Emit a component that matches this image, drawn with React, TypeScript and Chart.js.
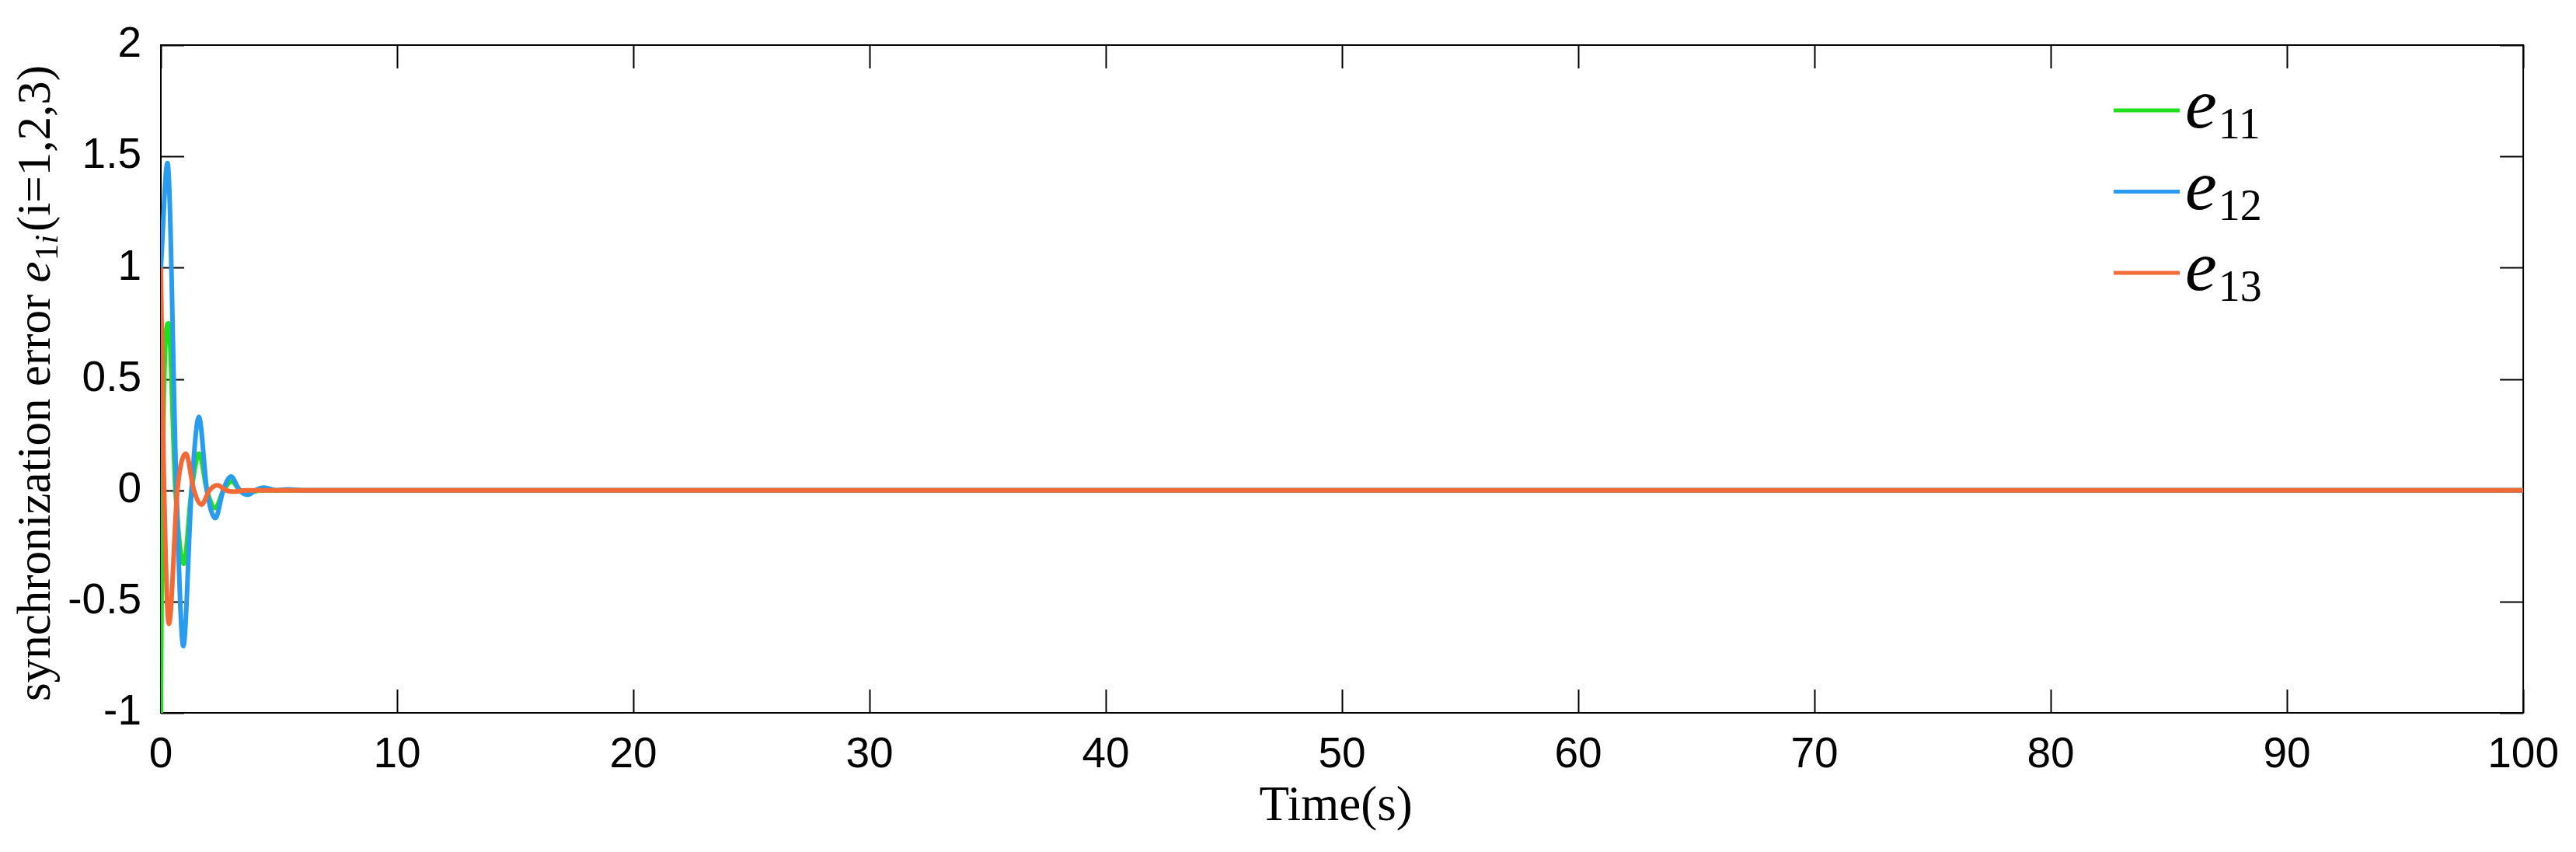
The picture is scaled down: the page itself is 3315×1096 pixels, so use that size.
import React, { useEffect, useRef } from 'react';
import { Chart, registerables } from 'chart.js';

Chart.register(...registerables);

// ---- data ----
const e11Time = [0, 0.04, 0.12, 0.32, 0.62, 0.97, 1.3, 1.62, 1.95, 2.3, 2.65, 3.0, 3.35, 3.7, 4.2, 100];
const e11Values = [-1, -0.3, 0.4, 0.75, 0, -0.33, 0, 0.165, 0, -0.08, 0, 0.04, 0, -0.012, 0, 0];

const e12Time = [0, 0.28, 0.66, 0.95, 1.3, 1.61, 1.95, 2.31, 2.64, 2.97, 3.33, 3.68, 4.0, 4.35, 4.9, 5.4, 6.0, 100];
const e12Values = [1.0, 1.47, 0, -0.7, 0, 0.33, 0, -0.125, 0, 0.062, 0, -0.02, 0, 0.012, 0, 0.004, 0, 0];

const e13Time = [0, 0.12, 0.34, 0.7, 1.06, 1.4, 1.72, 2.06, 2.4, 2.75, 3.1, 3.6, 100];
const e13Values = [1.0, 0.1, -0.6, 0, 0.165, 0, -0.064, 0, 0.022, 0, -0.006, 0, 0];

const seriesSubscripts = ['11', '12', '13'];
const seriesColors = ['#1fe01f', '#2a9cf0', '#f46a36'];

const xTickValues = [0, 10, 20, 30, 40, 50, 60, 70, 80, 90, 100];
const yTickValues = [-1, -0.5, 0, 0.5, 1, 1.5, 2];

const xTitle = 'Time(s)';
const yTitlePrefix = 'synchronization error ';
const yTitleSub1 = '1';
const yTitleSub2 = 'i';
const yTitleSuffix = '(i=1,2,3)';

const W = 3315;
const H = 1096;
const PLOT_LEFT = 207;
const PLOT_RIGHT = 3249;
const PLOT_TOP = 37;
const PLOT_BOTTOM = 917;
const TICK_LEN = 30;

const toPoints = (t: number[], v: number[]) => t.map((x, i) => ({ x, y: v[i] }));

const decorPlugin = {
  id: 'decor',
  beforeDatasetsDraw(chart: any) {
    const ctx = chart.ctx;
    const { left, right, top, bottom } = chart.chartArea;
    const xs = chart.scales.x;
    const ys = chart.scales.y;
    ctx.save();
    ctx.strokeStyle = '#000';
    ctx.lineWidth = 2;
    ctx.strokeRect(left, top, right - left, bottom - top);
    ctx.beginPath();
    xTickValues.forEach((v) => {
      const px = Math.round(xs.getPixelForValue(v)) + 0.5;
      ctx.moveTo(px, bottom);
      ctx.lineTo(px, bottom - TICK_LEN);
      ctx.moveTo(px, top);
      ctx.lineTo(px, top + TICK_LEN);
    });
    yTickValues.forEach((v) => {
      const py = Math.round(ys.getPixelForValue(v)) + 0.5;
      ctx.moveTo(left, py);
      ctx.lineTo(left + TICK_LEN, py);
      ctx.moveTo(right, py);
      ctx.lineTo(right - TICK_LEN, py);
    });
    ctx.stroke();
    ctx.restore();
  },
  afterDraw(chart: any) {
    const ctx = chart.ctx;
    const { left, right, top, bottom } = chart.chartArea;
    ctx.save();
    ctx.fillStyle = '#000';

    // x title
    ctx.font = '63px "Liberation Serif"';
    ctx.textAlign = 'center';
    ctx.textBaseline = 'alphabetic';
    ctx.fillText(xTitle, (left + right) / 2 - 8, 1055);

    // y title (rotated), with italic e and subscript
    ctx.save();
    ctx.translate(64, (top + bottom) / 2 + 6);
    ctx.rotate(-Math.PI / 2);
    const mainFont = '61px "Liberation Serif"';
    const italFont = 'italic 61px "Liberation Serif"';
    const subFont = '43px "Liberation Serif"';
    const subItalFont = 'italic 43px "Liberation Serif"';
    ctx.font = mainFont;
    const w1 = ctx.measureText(yTitlePrefix).width;
    ctx.font = italFont;
    const w2 = ctx.measureText('e').width;
    ctx.font = subFont;
    const w3 = ctx.measureText(yTitleSub1).width;
    ctx.font = subItalFont;
    const w3b = ctx.measureText(yTitleSub2).width + 4;
    ctx.font = mainFont;
    const w4 = ctx.measureText(yTitleSuffix).width;
    const total = w1 + w2 + w3 + w3b + w4;
    let x = -total / 2;
    ctx.textAlign = 'left';
    ctx.font = mainFont;
    ctx.fillText(yTitlePrefix, x, 0);
    x += w1;
    ctx.font = italFont;
    ctx.fillText('e', x, 0);
    x += w2 + 1;
    ctx.font = subFont;
    ctx.fillText(yTitleSub1, x, 10);
    x += w3;
    ctx.font = subItalFont;
    ctx.fillText(yTitleSub2, x, 10);
    x += w3b;
    ctx.font = mainFont;
    ctx.fillText(yTitleSuffix, x, 0);
    ctx.restore();

    // legend
    const legendLineX0 = 2720;
    const legendLineX1 = 2805;
    const legendY0 = 142;
    const legendStep = 104.5;
    seriesSubscripts.forEach((sub, i) => {
      const y = legendY0 + i * legendStep;
      ctx.strokeStyle = seriesColors[i];
      ctx.lineWidth = 5;
      ctx.beginPath();
      ctx.moveTo(legendLineX0, y);
      ctx.lineTo(legendLineX1, y);
      ctx.stroke();
      ctx.fillStyle = '#000';
      ctx.textAlign = 'left';
      ctx.font = 'italic 92px "Liberation Serif"';
      ctx.fillText('e', 2812, y + 22);
      const ew = ctx.measureText('e').width;
      ctx.font = '56px "Liberation Serif"';
      ctx.fillText(sub, 2812 + ew + 2, y + 36);
    });
    ctx.restore();
  },
};

export default function App() {
  const ref = useRef<HTMLCanvasElement | null>(null);
  useEffect(() => {
    document.body.style.margin = '0';
    const canvas = ref.current;
    if (!canvas) return;
    const tickFont = { family: '"Liberation Sans", Arial, sans-serif', size: 55 };
    const chart = new Chart(canvas, {
      type: 'line',
      data: {
        datasets: [
          {
            label: 'e11',
            data: toPoints(e11Time, e11Values),
            borderColor: seriesColors[0],
            order: 2,
          },
          {
            label: 'e12',
            data: toPoints(e12Time, e12Values),
            borderColor: seriesColors[1],
            order: 1,
          },
          {
            label: 'e13',
            data: toPoints(e13Time, e13Values),
            borderColor: seriesColors[2],
            order: 0,
          },
        ].map((d) => ({
          ...d,
          borderWidth: 6,
          pointRadius: 0,
          fill: false,
          cubicInterpolationMode: 'monotone' as const,
        })),
      },
      options: {
        animation: false,
        responsive: false,
        devicePixelRatio: 1,
        layout: { padding: { left: 0, top: PLOT_TOP, right: W - PLOT_RIGHT, bottom: 0 } },
        plugins: { legend: { display: false }, tooltip: { enabled: false } },
        scales: {
          x: {
            type: 'linear',
            min: 0,
            max: 100,
            grid: { display: false, drawTicks: false },
            border: { display: false },
            ticks: {
              stepSize: 10,
              padding: 22,
              color: '#000',
              font: tickFont,
              maxRotation: 0,
              autoSkip: false,
              callback: (v: any) => String(v),
            },
            afterFit: (s: any) => {
              s.height = H - PLOT_BOTTOM;
            },
          },
          y: {
            type: 'linear',
            min: -1,
            max: 2,
            grid: { display: false, drawTicks: false },
            border: { display: false },
            ticks: {
              stepSize: 0.5,
              padding: 25,
              color: '#000',
              font: tickFont,
              autoSkip: false,
              callback: (v: any) => String(v),
            },
            afterFit: (s: any) => {
              s.width = PLOT_LEFT;
            },
          },
        },
      },
      plugins: [decorPlugin],
    });
    return () => chart.destroy();
  }, []);
  return <canvas ref={ref} width={W} height={H} style={{ display: 'block', width: W, height: H }} />;
}
